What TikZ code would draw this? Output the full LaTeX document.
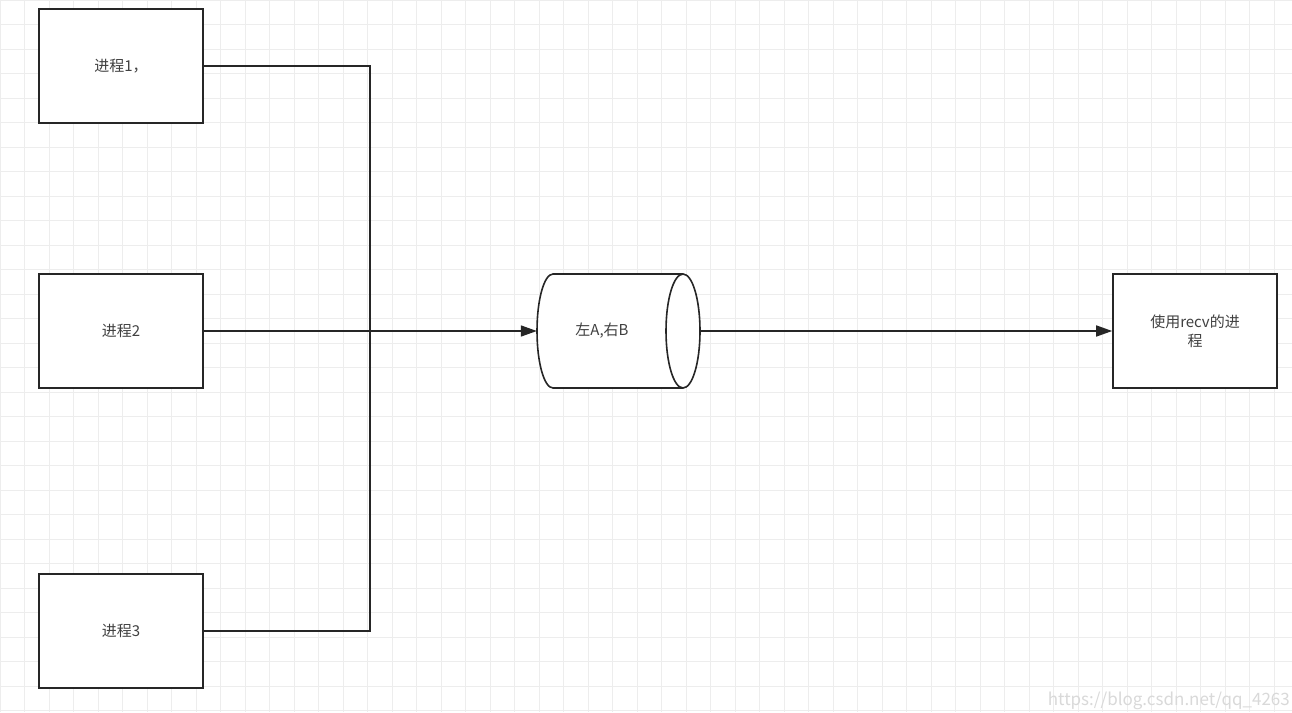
\documentclass[tikz,border=0pt]{standalone}
\usepackage{fontspec}
\setmainfont{Noto Sans CJK SC}
\usetikzlibrary{arrows.meta}
\begin{document}
\begin{tikzpicture}[x=1pt,y=1pt,
  box/.style={draw=black!85,line width=1.6pt,fill=white,minimum width=164pt,minimum height=114pt,inner sep=0pt,font=\fontsize{15}{19}\selectfont,text=black!75,align=center},
  conn/.style={draw=black!85,line width=1.6pt},
  arr/.style={conn,-{Triangle[length=16pt,width=11pt]}}]
\useasboundingbox (0,-712) rectangle (1292,0);
\fill[white] (0,-712) rectangle (1292,0);
\draw[black!7,line width=0.8pt,step=24.5] (0,-712) grid (1292,0);
\node[box] (p1) at (121,-66) {进程1，};
\node[box] (p2) at (121,-331) {进程2};
\node[box] (p3) at (121,-631) {进程3};
\node[box,text width=150pt] (r) at (1195,-331) {使用recv的进\\程};
% cylinder
\filldraw[fill=white,draw=black!85,line width=1.6pt]
  (683,-274) -- (553,-274) arc[start angle=90,end angle=270,x radius=16,y radius=57] -- (683,-388);
\filldraw[fill=white,draw=black!85,line width=1.6pt] (683,-331) ellipse[x radius=17,y radius=57];
\node[inner sep=0pt,minimum width=163pt,minimum height=114pt] (cyl) at (618.5,-331) {};
\node[font=\fontsize{15}{19}\selectfont,text=black!75] (cl) at (602,-331) {左A,右B};
\coordinate (j) at (370,-331);
\draw[conn] (p1.east) -| (j) |- (p3.east);
\draw[arr] (p2.east) -- (cyl.west);
\draw[arr] (cyl.east) -- (r.west);
\node[anchor=south east,font=\fontsize{17}{20}\selectfont,text=black!15,inner sep=2pt] (wm) at (1292,-712) {https://blog.csdn.net/qq\_4263};
\end{tikzpicture}
\end{document}
